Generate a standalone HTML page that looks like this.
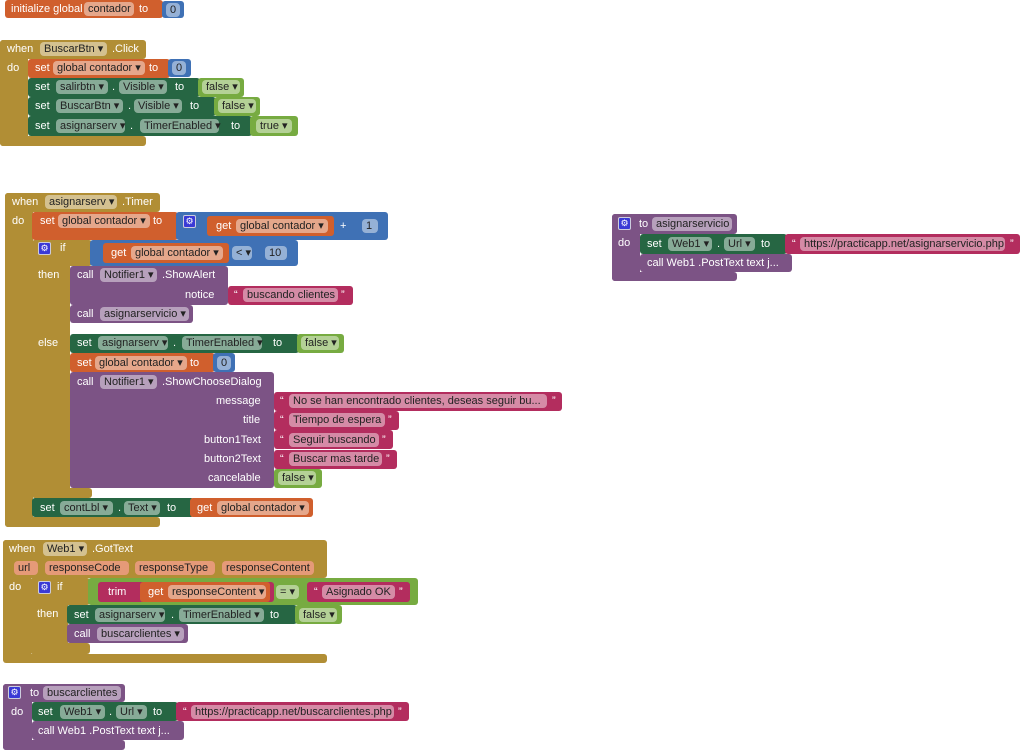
<!DOCTYPE html>
<html><head><meta charset="utf-8"><style>
body{margin:0;width:1020px;height:750px;background:#fff;position:relative;overflow:hidden;font-family:"Liberation Sans",sans-serif;font-size:11px;color:#fff}
.r{position:absolute;border-radius:3px}
.t{position:absolute;white-space:nowrap;line-height:14px}
.p{position:absolute;white-space:nowrap;line-height:14px;height:14px;border-radius:4px;background:rgba(255,255,255,.45);color:#222;padding:0 4px;box-sizing:border-box}
.g{position:absolute;width:11px;height:11px;background:#3a3ad6;border:1px solid #ccd;border-radius:2px;color:#fff;font-size:9px;line-height:11px;text-align:center}
.O{background:#D05F2D}.G{background:#B18E35}.D{background:#266643}.B{background:#3F71B5}.L{background:#77AB41}.P{background:#7C5385}.M{background:#B32D5E}
</style></head><body>

<!-- init -->
<div class="r O" style="left:5px;top:0;width:158px;height:18px"></div>
<span class="t" style="left:11px;top:2px">initialize global</span>
<span class="p" style="left:84px;top:2px;width:50px">contador</span>
<span class="t" style="left:139px;top:2px">to</span>
<div class="r B" style="left:162px;top:1px;width:22px;height:17px"></div>
<span class="p" style="left:166px;top:3px;width:14px">0</span>

<!-- BuscarBtn.Click -->
<div class="r G" style="left:0;top:40px;width:146px;height:19px"></div>
<div class="r G" style="left:0;top:40px;width:28px;height:106px"></div>
<div class="r G" style="left:0;top:136px;width:146px;height:10px"></div>
<span class="t" style="left:7px;top:42px">when</span>
<span class="p" style="left:40px;top:42px;width:67px">BuscarBtn ▾</span>
<span class="t" style="left:112px;top:42px">.Click</span>
<span class="t" style="left:7px;top:61px">do</span>
<div class="r O" style="left:28px;top:59px;width:142px;height:19px"></div>
<span class="t" style="left:35px;top:61px">set</span>
<span class="p" style="left:53px;top:61px;width:92px">global contador ▾</span>
<span class="t" style="left:149px;top:61px">to</span>
<div class="r B" style="left:168px;top:59px;width:23px;height:18px"></div>
<span class="p" style="left:172px;top:61px;width:14px">0</span>
<div class="r D" style="left:28px;top:78px;width:172px;height:19px"></div>
<span class="t" style="left:35px;top:80px">set</span>
<span class="p" style="left:56px;top:80px;width:52px">salirbtn ▾</span>
<span class="t" style="left:112px;top:80px">.</span>
<span class="p" style="left:119px;top:80px;width:48px">Visible ▾</span>
<span class="t" style="left:175px;top:80px">to</span>
<div class="r L" style="left:198px;top:78px;width:46px;height:19px"></div>
<span class="p" style="left:202px;top:80px;width:38px">false ▾</span>
<div class="r D" style="left:28px;top:97px;width:188px;height:19px"></div>
<span class="t" style="left:35px;top:99px">set</span>
<span class="p" style="left:56px;top:99px;width:67px">BuscarBtn ▾</span>
<span class="t" style="left:128px;top:99px">.</span>
<span class="p" style="left:134px;top:99px;width:48px">Visible ▾</span>
<span class="t" style="left:190px;top:99px">to</span>
<div class="r L" style="left:214px;top:97px;width:46px;height:19px"></div>
<span class="p" style="left:218px;top:99px;width:38px">false ▾</span>
<div class="r D" style="left:28px;top:116px;width:224px;height:20px"></div>
<span class="t" style="left:35px;top:119px">set</span>
<span class="p" style="left:56px;top:119px;width:69px">asignarserv ▾</span>
<span class="t" style="left:130px;top:119px">.</span>
<span class="p" style="left:140px;top:119px;width:79px">TimerEnabled ▾</span>
<span class="t" style="left:231px;top:119px">to</span>
<div class="r L" style="left:250px;top:116px;width:48px;height:20px"></div>
<span class="p" style="left:256px;top:119px;width:36px">true ▾</span>

<!-- asignarserv.Timer -->
<div class="r G" style="left:5px;top:193px;width:155px;height:19px"></div>
<div class="r G" style="left:5px;top:193px;width:28px;height:334px"></div>
<div class="r G" style="left:5px;top:517px;width:155px;height:10px"></div>
<span class="t" style="left:12px;top:195px">when</span>
<span class="p" style="left:45px;top:195px;width:72px">asignarserv ▾</span>
<span class="t" style="left:122px;top:195px">.Timer</span>
<span class="t" style="left:12px;top:214px">do</span>
<div class="r O" style="left:32px;top:212px;width:146px;height:28px"></div>
<span class="t" style="left:40px;top:214px">set</span>
<span class="p" style="left:58px;top:214px;width:92px">global contador ▾</span>
<span class="t" style="left:153px;top:214px">to</span>
<div class="r B" style="left:176px;top:212px;width:212px;height:28px"></div>
<div class="g" style="left:183px;top:215px">⚙</div>
<div class="r O" style="left:207px;top:216px;width:127px;height:20px"></div>
<span class="t" style="left:216px;top:219px">get</span>
<span class="p" style="left:236px;top:219px;width:92px">global contador ▾</span>
<span class="t" style="left:340px;top:219px">+</span>
<span class="p" style="left:362px;top:219px;width:16px">1</span>
<!-- if -->
<div class="r G" style="left:32px;top:240px;width:60px;height:26px"></div>
<div class="r G" style="left:32px;top:240px;width:38px;height:258px"></div>
<div class="r G" style="left:32px;top:488px;width:60px;height:10px"></div>
<div class="g" style="left:38px;top:242px">⚙</div>
<span class="t" style="left:60px;top:241px">if</span>
<div class="r B" style="left:90px;top:240px;width:208px;height:26px"></div>
<div class="r O" style="left:103px;top:243px;width:126px;height:20px"></div>
<span class="t" style="left:111px;top:246px">get</span>
<span class="p" style="left:131px;top:246px;width:92px">global contador ▾</span>
<span class="p" style="left:232px;top:246px;width:20px">&lt; ▾</span>
<span class="p" style="left:265px;top:246px;width:22px">10</span>
<span class="t" style="left:38px;top:268px">then</span>
<div class="r P" style="left:70px;top:266px;width:158px;height:39px"></div>
<span class="t" style="left:77px;top:268px">call</span>
<span class="p" style="left:100px;top:268px;width:57px">Notifier1 ▾</span>
<span class="t" style="left:162px;top:268px">.ShowAlert</span>
<span class="t" style="left:185px;top:288px">notice</span>
<div class="r M" style="left:228px;top:286px;width:125px;height:19px"></div>
<span class="t" style="left:234px;top:288px">“</span>
<span class="p" style="left:243px;top:288px;width:95px">buscando clientes</span>
<span class="t" style="left:341px;top:288px">”</span>
<div class="r P" style="left:70px;top:305px;width:123px;height:18px"></div>
<span class="t" style="left:77px;top:307px">call</span>
<span class="p" style="left:100px;top:307px;width:89px">asignarservicio ▾</span>
<span class="t" style="left:38px;top:336px">else</span>
<div class="r D" style="left:70px;top:334px;width:229px;height:19px"></div>
<span class="t" style="left:77px;top:336px">set</span>
<span class="p" style="left:98px;top:336px;width:70px">asignarserv ▾</span>
<span class="t" style="left:173px;top:336px">.</span>
<span class="p" style="left:182px;top:336px;width:80px">TimerEnabled ▾</span>
<span class="t" style="left:273px;top:336px">to</span>
<div class="r L" style="left:297px;top:334px;width:47px;height:19px"></div>
<span class="p" style="left:301px;top:336px;width:38px">false ▾</span>
<div class="r O" style="left:70px;top:353px;width:145px;height:19px"></div>
<span class="t" style="left:77px;top:356px">set</span>
<span class="p" style="left:95px;top:356px;width:92px">global contador ▾</span>
<span class="t" style="left:190px;top:356px">to</span>
<div class="r B" style="left:213px;top:353px;width:22px;height:19px"></div>
<span class="p" style="left:217px;top:356px;width:14px">0</span>
<div class="r P" style="left:70px;top:372px;width:204px;height:116px"></div>
<span class="t" style="left:77px;top:375px">call</span>
<span class="p" style="left:100px;top:375px;width:57px">Notifier1 ▾</span>
<span class="t" style="left:162px;top:375px">.ShowChooseDialog</span>
<span class="t" style="left:216px;top:394px">message</span>
<span class="t" style="left:243px;top:413px">title</span>
<span class="t" style="left:204px;top:433px">button1Text</span>
<span class="t" style="left:204px;top:452px">button2Text</span>
<span class="t" style="left:208px;top:471px">cancelable</span>
<div class="r M" style="left:274px;top:392px;width:288px;height:19px"></div>
<span class="t" style="left:280px;top:394px">“</span>
<span class="p" style="left:289px;top:394px;width:258px">No  se han encontrado clientes, deseas seguir bu...</span>
<span class="t" style="left:552px;top:394px">”</span>
<div class="r M" style="left:274px;top:411px;width:125px;height:19px"></div>
<span class="t" style="left:280px;top:413px">“</span>
<span class="p" style="left:289px;top:413px;width:96px">Tiempo de espera</span>
<span class="t" style="left:388px;top:413px">”</span>
<div class="r M" style="left:274px;top:430px;width:119px;height:19px"></div>
<span class="t" style="left:280px;top:433px">“</span>
<span class="p" style="left:289px;top:433px;width:90px">Seguir buscando</span>
<span class="t" style="left:382px;top:433px">”</span>
<div class="r M" style="left:274px;top:450px;width:123px;height:19px"></div>
<span class="t" style="left:280px;top:452px">“</span>
<span class="p" style="left:289px;top:452px;width:93px">Buscar mas tarde</span>
<span class="t" style="left:386px;top:452px">”</span>
<div class="r L" style="left:274px;top:469px;width:48px;height:19px"></div>
<span class="p" style="left:278px;top:471px;width:38px">false ▾</span>
<div class="r D" style="left:32px;top:498px;width:162px;height:19px"></div>
<span class="t" style="left:40px;top:501px">set</span>
<span class="p" style="left:60px;top:501px;width:53px">contLbl ▾</span>
<span class="t" style="left:118px;top:501px">.</span>
<span class="p" style="left:124px;top:501px;width:36px">Text ▾</span>
<span class="t" style="left:167px;top:501px">to</span>
<div class="r O" style="left:190px;top:498px;width:123px;height:19px"></div>
<span class="t" style="left:197px;top:501px">get</span>
<span class="p" style="left:217px;top:501px;width:92px">global contador ▾</span>

<!-- procedure asignarservicio -->
<div class="r P" style="left:612px;top:214px;width:125px;height:20px"></div>
<div class="r P" style="left:612px;top:214px;width:28px;height:67px"></div>
<div class="r P" style="left:612px;top:272px;width:125px;height:9px"></div>
<div class="g" style="left:618px;top:217px">⚙</div>
<span class="t" style="left:639px;top:217px">to</span>
<span class="p" style="left:652px;top:217px;width:80px">asignarservicio</span>
<span class="t" style="left:618px;top:236px">do</span>
<div class="r D" style="left:640px;top:234px;width:147px;height:20px"></div>
<span class="t" style="left:647px;top:237px">set</span>
<span class="p" style="left:668px;top:237px;width:44px">Web1 ▾</span>
<span class="t" style="left:717px;top:237px">.</span>
<span class="p" style="left:724px;top:237px;width:31px">Url ▾</span>
<span class="t" style="left:761px;top:237px">to</span>
<div class="r M" style="left:785px;top:234px;width:235px;height:20px"></div>
<span class="t" style="left:792px;top:237px">“</span>
<span class="p" style="left:800px;top:237px;width:205px">https://practicapp.net/asignarservicio.php</span>
<span class="t" style="left:1010px;top:237px">”</span>
<div class="r P" style="left:640px;top:254px;width:152px;height:18px"></div>
<span class="t" style="left:647px;top:256px">call  Web1 .PostText text j...</span>

<!-- Web1.GotText -->
<div class="r G" style="left:3px;top:540px;width:324px;height:38px"></div>
<div class="r G" style="left:3px;top:540px;width:28px;height:122px"></div>
<div class="r G" style="left:3px;top:654px;width:324px;height:9px"></div>
<span class="t" style="left:9px;top:542px">when</span>
<span class="p" style="left:43px;top:542px;width:44px">Web1 ▾</span>
<span class="t" style="left:92px;top:542px">.GotText</span>
<span class="p" style="left:14px;top:561px;width:24px;background:#E59A78">url</span>
<span class="p" style="left:45px;top:561px;width:84px;background:#E59A78">responseCode</span>
<span class="p" style="left:135px;top:561px;width:80px;background:#E59A78">responseType</span>
<span class="p" style="left:222px;top:561px;width:92px;background:#E59A78">responseContent</span>
<span class="t" style="left:9px;top:580px">do</span>
<div class="r G" style="left:30px;top:578px;width:60px;height:27px"></div>
<div class="r G" style="left:30px;top:578px;width:38px;height:76px"></div>
<div class="r G" style="left:30px;top:643px;width:60px;height:11px"></div>
<div class="g" style="left:38px;top:581px">⚙</div>
<span class="t" style="left:57px;top:580px">if</span>
<div class="r L" style="left:88px;top:578px;width:330px;height:27px"></div>
<div class="r M" style="left:98px;top:582px;width:176px;height:20px"></div>
<span class="t" style="left:108px;top:585px">trim</span>
<div class="r O" style="left:140px;top:582px;width:130px;height:20px"></div>
<span class="t" style="left:148px;top:585px">get</span>
<span class="p" style="left:168px;top:585px;width:98px">responseContent ▾</span>
<span class="p" style="left:276px;top:585px;width:23px">= ▾</span>
<div class="r M" style="left:307px;top:582px;width:103px;height:20px"></div>
<span class="t" style="left:314px;top:585px">“</span>
<span class="p" style="left:322px;top:585px;width:73px">Asignado OK</span>
<span class="t" style="left:399px;top:585px">”</span>
<span class="t" style="left:37px;top:607px">then</span>
<div class="r D" style="left:67px;top:605px;width:230px;height:19px"></div>
<span class="t" style="left:74px;top:608px">set</span>
<span class="p" style="left:95px;top:608px;width:70px">asignarserv ▾</span>
<span class="t" style="left:171px;top:608px">.</span>
<span class="p" style="left:179px;top:608px;width:85px">TimerEnabled ▾</span>
<span class="t" style="left:270px;top:608px">to</span>
<div class="r L" style="left:295px;top:605px;width:47px;height:19px"></div>
<span class="p" style="left:299px;top:608px;width:38px">false ▾</span>
<div class="r P" style="left:67px;top:624px;width:121px;height:19px"></div>
<span class="t" style="left:74px;top:627px">call</span>
<span class="p" style="left:97px;top:627px;width:87px">buscarclientes ▾</span>

<!-- procedure buscarclientes -->
<div class="r P" style="left:3px;top:684px;width:122px;height:18px"></div>
<div class="r P" style="left:3px;top:684px;width:29px;height:66px"></div>
<div class="r P" style="left:3px;top:740px;width:122px;height:10px"></div>
<div class="g" style="left:8px;top:686px">⚙</div>
<span class="t" style="left:30px;top:686px">to</span>
<span class="p" style="left:43px;top:686px;width:78px">buscarclientes</span>
<span class="t" style="left:11px;top:705px">do</span>
<div class="r D" style="left:32px;top:702px;width:146px;height:19px"></div>
<span class="t" style="left:38px;top:705px">set</span>
<span class="p" style="left:60px;top:705px;width:45px">Web1 ▾</span>
<span class="t" style="left:109px;top:705px">.</span>
<span class="p" style="left:116px;top:705px;width:31px">Url ▾</span>
<span class="t" style="left:153px;top:705px">to</span>
<div class="r M" style="left:176px;top:702px;width:233px;height:19px"></div>
<span class="t" style="left:183px;top:705px">“</span>
<span class="p" style="left:191px;top:705px;width:203px">https://practicapp.net/buscarclientes.php</span>
<span class="t" style="left:398px;top:705px">”</span>
<div class="r P" style="left:32px;top:721px;width:152px;height:19px"></div>
<span class="t" style="left:38px;top:724px">call  Web1 .PostText text j...</span>

</body></html>
